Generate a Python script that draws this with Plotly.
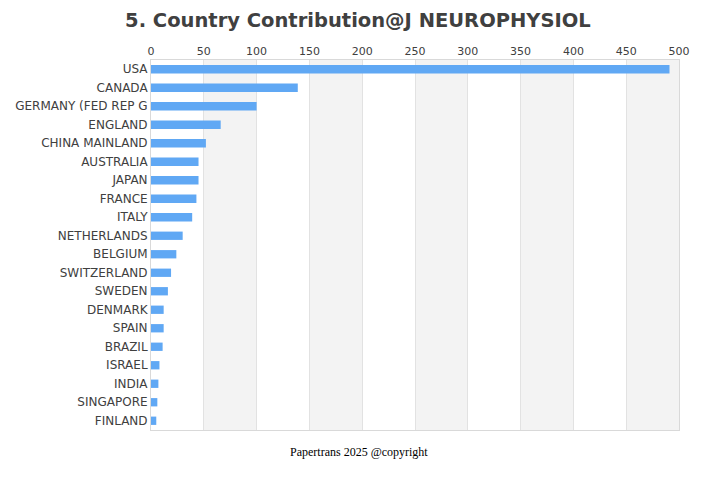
import plotly.graph_objects as go

countries = ['USA', 'CANADA', 'GERMANY (FED REP G', 'ENGLAND', 'CHINA MAINLAND',
             'AUSTRALIA', 'JAPAN', 'FRANCE', 'ITALY', 'NETHERLANDS', 'BELGIUM',
             'SWITZERLAND', 'SWEDEN', 'DENMARK', 'SPAIN', 'BRAZIL', 'ISRAEL',
             'INDIA', 'SINGAPORE', 'FINLAND']
counts = [491, 139, 100, 66, 52, 45, 45, 43, 39, 30, 24, 19, 16, 12, 12, 11, 8, 7, 6, 5]
tick_vals = [0, 50, 100, 150, 200, 250, 300, 350, 400, 450, 500]

fig = go.Figure()

fig.add_trace(go.Bar(
    x=counts, y=countries, orientation='h',
    marker=dict(color='#60a8f4', line=dict(width=0)),
    hoverinfo='x+y',
))

# alternating grey bands between gridlines
bands = []
for i in range(len(tick_vals) - 1):
    if i % 2 == 1:
        bands.append(dict(type='rect', xref='x', yref='paper',
                          x0=tick_vals[i], x1=tick_vals[i + 1], y0=0, y1=1,
                          fillcolor='#f3f3f3', line=dict(width=0), layer='below'))

fig.update_layout(
    width=720, height=480,
    plot_bgcolor='white', paper_bgcolor='white',
    margin=dict(l=143, r=49, t=52, b=58),
    title=dict(text='<b>5. Country Contribution@J NEUROPHYSIOL</b>',
               x=0.486, xanchor='center', xref='container',
               y=0.988, yanchor='top', yref='container', pad=dict(t=0, b=0),
               font=dict(family='DejaVu Sans', size=19.5, color='#404040')),
    bargap=0.55,
    showlegend=False,
    shapes=bands,
    xaxis=dict(side='top', range=[0, 500], tickvals=tick_vals, automargin=False,
               showgrid=True, gridcolor='#e2e2e2', gridwidth=1,
               zeroline=False, showline=True, linecolor='#d9d9d9', mirror=True,
               ticks='', tickfont=dict(family='DejaVu Sans', size=11, color='#404040')),
    yaxis=dict(autorange='reversed', showgrid=False, zeroline=False, automargin=False,
               showline=True, linecolor='#d9d9d9', mirror=True,
               ticks='',
               tickfont=dict(family='DejaVu Sans', size=12, color='#404040')),
    annotations=[dict(text='Papertrans 2025 @copyright', xref='paper', yref='paper',
                      x=0.393, y=-0.034, xanchor='center', yanchor='top', showarrow=False,
                      font=dict(family='Liberation Serif', size=12, color='#000000'))],
)

fig.write_html("out.html")
